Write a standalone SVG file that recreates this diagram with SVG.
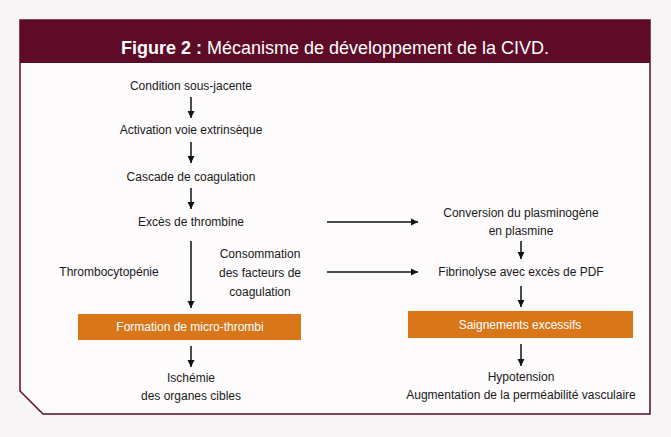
<svg xmlns="http://www.w3.org/2000/svg" width="671" height="437" viewBox="0 0 671 437">
<style>
text{font-family:"Liberation Sans",Arial,sans-serif;font-size:12px;fill:#1a1a1a;text-anchor:middle}
.w{fill:#fff}
.box{fill:#d9761a}
.c line{stroke:#111;stroke-width:1.5}
</style>
<defs><marker id="a" viewBox="0 0 10 10" refX="10" refY="5" markerWidth="5" markerHeight="5" orient="auto"><path d="M0,0L10,5L0,10z" fill="#111"/></marker></defs>
<rect width="671" height="437" fill="#f7f5f6"/>
<path d="M20,20H650V414H43L20,391Z" fill="#fdfbfc" stroke="#5e0b27" stroke-width="1.5"/>
<rect x="20" y="20" width="630" height="43" fill="#5e0b27"/>
<text x="335" y="54" class="w" style="font-size:18px;font-family:'Liberation Sans Narrow','Liberation Sans',sans-serif"><tspan font-weight="bold">Figure 2 :</tspan> Mécanisme de développement de la CIVD.</text>
<g class="c">
<line x1="191" y1="97" x2="191" y2="118" marker-end="url(#a)"/>
<line x1="191" y1="142" x2="191" y2="163" marker-end="url(#a)"/>
<line x1="191" y1="188" x2="191" y2="209" marker-end="url(#a)"/>
<line x1="191" y1="241" x2="191" y2="308" marker-end="url(#a)"/>
<line x1="191" y1="346" x2="191" y2="367" marker-end="url(#a)"/>
<line x1="327" y1="222" x2="418" y2="222" marker-end="url(#a)"/>
<line x1="327" y1="272" x2="418" y2="272" marker-end="url(#a)"/>
<line x1="521" y1="241" x2="521" y2="259" marker-end="url(#a)"/>
<line x1="521" y1="286" x2="521" y2="307" marker-end="url(#a)"/>
<line x1="521" y1="344" x2="521" y2="366" marker-end="url(#a)"/>
</g>
<g id="n1"><text x="191" y="90">Condition sous-jacente</text></g>
<g id="n2"><text x="191" y="134">Activation voie extrinsèque</text></g>
<g id="n3"><text x="191" y="181">Cascade de coagulation</text></g>
<g id="n4"><text x="191" y="226">Excès de thrombine</text></g>
<g id="n5"><text x="109" y="276">Thrombocytopénie</text></g>
<g id="n6"><text x="260" y="258">Consommation</text><text x="260" y="277">des facteurs de</text><text x="260" y="296">coagulation</text></g>
<g id="n7"><rect class="box" x="78" y="314" width="223" height="26"/><text class="w" x="190" y="331">Formation de micro-thrombi</text></g>
<g id="n8"><text x="191" y="382">Ischémie</text><text x="191" y="400">des organes cibles</text></g>
<g id="n9"><text x="521" y="217">Conversion du plasminogène</text><text x="521" y="235">en plasmine</text></g>
<g id="n10"><text x="521" y="276">Fibrinolyse avec excès de PDF</text></g>
<g id="n11"><rect class="box" x="408" y="311" width="225" height="27"/><text class="w" x="520" y="329">Saignements excessifs</text></g>
<g id="n12"><text x="521" y="381">Hypotension</text><text x="521" y="399">Augmentation de la perméabilité vasculaire</text></g>
</svg>
